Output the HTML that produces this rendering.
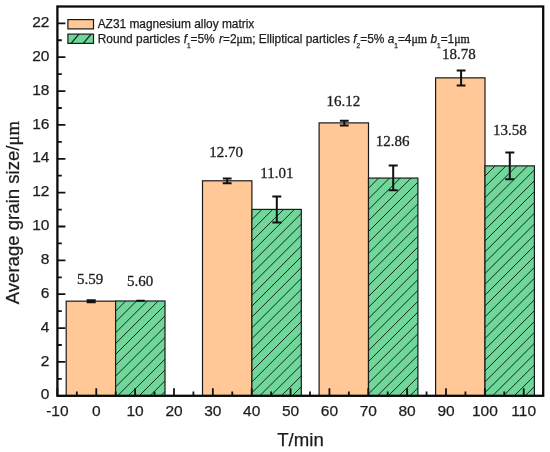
<!DOCTYPE html>
<html lang="en"><head><meta charset="utf-8"><title>Average grain size</title>
<style>html,body{margin:0;padding:0;background:#fff}svg{display:block}.s{font-family:"Liberation Sans",Arial,sans-serif;fill:#1c1c1c;stroke:#1c1c1c;stroke-width:.25px}.t{font-family:"Liberation Serif","Times New Roman",serif;fill:#1c1c1c;stroke:#1c1c1c;stroke-width:.3px}</style></head><body>
<svg width="550" height="452" viewBox="0 0 550 452">
<rect width="550" height="452" fill="#fff"/>
<defs>
<clipPath id="c0"><rect x="115.60" y="300.99" width="49.40" height="94.81"/></clipPath>
<clipPath id="c1"><rect x="251.90" y="209.40" width="49.40" height="186.40"/></clipPath>
<clipPath id="c2"><rect x="368.50" y="178.08" width="49.40" height="217.72"/></clipPath>
<clipPath id="c3"><rect x="485.00" y="165.89" width="49.40" height="229.91"/></clipPath>
<clipPath id="cl"><rect x="67.9" y="34.1" width="25.6" height="9.3"/></clipPath>
</defs>
<rect x="66.20" y="301.16" width="49.40" height="94.64" fill="#FFC896" stroke="#1a1a1a" stroke-width="1.2"/>
<rect x="115.60" y="300.99" width="49.40" height="94.81" fill="#70D69A"/>
<path d="M28.89 397.80L127.70 298.99M39.72 397.80L138.53 298.99M50.55 397.80L149.36 298.99M61.38 397.80L160.19 298.99M72.21 397.80L171.02 298.99M83.04 397.80L181.85 298.99M93.87 397.80L192.68 298.99M104.70 397.80L203.51 298.99M115.53 397.80L214.34 298.99M126.36 397.80L225.17 298.99M137.19 397.80L236.00 298.99M148.02 397.80L246.83 298.99M158.85 397.80L257.66 298.99" stroke="#10281a" stroke-width="1" fill="none" clip-path="url(#c0)"/>
<rect x="115.60" y="300.99" width="49.40" height="94.81" fill="none" stroke="#1a1a1a" stroke-width="1.2"/>
<rect x="202.50" y="180.79" width="49.40" height="215.01" fill="#FFC896" stroke="#1a1a1a" stroke-width="1.2"/>
<rect x="251.90" y="209.40" width="49.40" height="186.40" fill="#70D69A"/>
<path d="M73.60 397.80L264.00 207.40M84.43 397.80L274.83 207.40M95.26 397.80L285.66 207.40M106.09 397.80L296.49 207.40M116.92 397.80L307.32 207.40M127.75 397.80L318.15 207.40M138.58 397.80L328.98 207.40M149.41 397.80L339.81 207.40M160.24 397.80L350.64 207.40M171.07 397.80L361.47 207.40M181.90 397.80L372.30 207.40M192.73 397.80L383.13 207.40M203.56 397.80L393.96 207.40M214.39 397.80L404.79 207.40M225.22 397.80L415.62 207.40M236.05 397.80L426.45 207.40M246.88 397.80L437.28 207.40M257.71 397.80L448.11 207.40M268.54 397.80L458.94 207.40M279.37 397.80L469.77 207.40M290.20 397.80L480.60 207.40" stroke="#10281a" stroke-width="1" fill="none" clip-path="url(#c1)"/>
<rect x="251.90" y="209.40" width="49.40" height="186.40" fill="none" stroke="#1a1a1a" stroke-width="1.2"/>
<rect x="319.10" y="122.89" width="49.40" height="272.91" fill="#FFC896" stroke="#1a1a1a" stroke-width="1.2"/>
<rect x="368.50" y="178.08" width="49.40" height="217.72" fill="#70D69A"/>
<path d="M158.88 397.80L380.60 176.08M169.71 397.80L391.43 176.08M180.54 397.80L402.26 176.08M191.37 397.80L413.09 176.08M202.20 397.80L423.92 176.08M213.03 397.80L434.75 176.08M223.86 397.80L445.58 176.08M234.69 397.80L456.41 176.08M245.52 397.80L467.24 176.08M256.35 397.80L478.07 176.08M267.18 397.80L488.90 176.08M278.01 397.80L499.73 176.08M288.84 397.80L510.56 176.08M299.67 397.80L521.39 176.08M310.50 397.80L532.22 176.08M321.33 397.80L543.05 176.08M332.16 397.80L553.88 176.08M342.99 397.80L564.71 176.08M353.82 397.80L575.54 176.08M364.65 397.80L586.37 176.08M375.48 397.80L597.20 176.08M386.31 397.80L608.03 176.08M397.14 397.80L618.86 176.08M407.97 397.80L629.69 176.08" stroke="#10281a" stroke-width="1" fill="none" clip-path="url(#c2)"/>
<rect x="368.50" y="178.08" width="49.40" height="217.72" fill="none" stroke="#1a1a1a" stroke-width="1.2"/>
<rect x="435.60" y="77.85" width="49.40" height="317.95" fill="#FFC896" stroke="#1a1a1a" stroke-width="1.2"/>
<rect x="485.00" y="165.89" width="49.40" height="229.91" fill="#70D69A"/>
<path d="M263.19 397.80L497.10 163.89M274.02 397.80L507.93 163.89M284.85 397.80L518.76 163.89M295.68 397.80L529.59 163.89M306.51 397.80L540.42 163.89M317.34 397.80L551.25 163.89M328.17 397.80L562.08 163.89M339.00 397.80L572.91 163.89M349.83 397.80L583.74 163.89M360.66 397.80L594.57 163.89M371.49 397.80L605.40 163.89M382.32 397.80L616.23 163.89M393.15 397.80L627.06 163.89M403.98 397.80L637.89 163.89M414.81 397.80L648.72 163.89M425.64 397.80L659.55 163.89M436.47 397.80L670.38 163.89M447.30 397.80L681.21 163.89M458.13 397.80L692.04 163.89M468.96 397.80L702.87 163.89M479.79 397.80L713.70 163.89M490.62 397.80L724.53 163.89M501.45 397.80L735.36 163.89M512.28 397.80L746.19 163.89M523.11 397.80L757.02 163.89" stroke="#10281a" stroke-width="1" fill="none" clip-path="url(#c3)"/>
<rect x="485.00" y="165.89" width="49.40" height="229.91" fill="none" stroke="#1a1a1a" stroke-width="1.2"/>
<path d="M91.2 300.3V302.3M86.7 300.3h9.0M86.7 302.3h9.0" stroke="#111" stroke-width="2" fill="none"/>
<path d="M227.2 178.4V183.2M222.8 178.4h8.8M222.8 183.2h8.8" stroke="#111" stroke-width="2" fill="none"/>
<path d="M344.3 120.7V125.4M339.9 120.7h8.8M339.9 125.4h8.8" stroke="#111" stroke-width="2" fill="none"/>
<path d="M461.1 70.6V85.4M456.7 70.6h8.8M456.7 85.4h8.8" stroke="#111" stroke-width="2" fill="none"/>
<path d="M140.5 300.7V300.7M136.3 300.7h8.4M136.3 300.7h8.4" stroke="#111" stroke-width="2" fill="none"/>
<path d="M276.8 196.5V222.6M272.3 196.5h9.0M272.3 222.6h9.0" stroke="#111" stroke-width="2" fill="none"/>
<path d="M393.2 165.4V190.2M388.7 165.4h9.0M388.7 190.2h9.0" stroke="#111" stroke-width="2" fill="none"/>
<path d="M509.8 152.5V179.2M505.3 152.5h9.0M505.3 179.2h9.0" stroke="#111" stroke-width="2" fill="none"/>
<path d="M57.40 395.80v-7.6M76.83 395.80v-4.2M96.26 395.80v-7.6M115.69 395.80v-4.2M135.12 395.80v-7.6M154.55 395.80v-4.2M173.98 395.80v-7.6M193.41 395.80v-4.2M212.84 395.80v-7.6M232.27 395.80v-4.2M251.70 395.80v-7.6M271.13 395.80v-4.2M290.56 395.80v-7.6M309.99 395.80v-4.2M329.42 395.80v-7.6M348.85 395.80v-4.2M368.28 395.80v-7.6M387.71 395.80v-4.2M407.14 395.80v-7.6M426.57 395.80v-4.2M446.00 395.80v-7.6M465.43 395.80v-4.2M484.86 395.80v-7.6M504.29 395.80v-4.2M523.72 395.80v-7.6M57.40 395.80h8.0M57.40 378.87h4.4M57.40 361.94h8.0M57.40 345.01h4.4M57.40 328.08h8.0M57.40 311.15h4.4M57.40 294.22h8.0M57.40 277.29h4.4M57.40 260.36h8.0M57.40 243.43h4.4M57.40 226.50h8.0M57.40 209.57h4.4M57.40 192.64h8.0M57.40 175.71h4.4M57.40 158.78h8.0M57.40 141.85h4.4M57.40 124.92h8.0M57.40 107.99h4.4M57.40 91.06h8.0M57.40 74.13h4.4M57.40 57.20h8.0M57.40 40.27h4.4M57.40 23.34h8.0" stroke="#111" stroke-width="1.8" fill="none"/>
<rect x="57.4" y="6.5" width="485.80" height="389.30" fill="none" stroke="#0a0a0a" stroke-width="2.3"/>
<text class="s" x="57.4" y="416" font-size="15.5" text-anchor="middle">-10</text>
<text class="s" x="96.3" y="416" font-size="15.5" text-anchor="middle">0</text>
<text class="s" x="135.1" y="416" font-size="15.5" text-anchor="middle">10</text>
<text class="s" x="174.0" y="416" font-size="15.5" text-anchor="middle">20</text>
<text class="s" x="212.8" y="416" font-size="15.5" text-anchor="middle">30</text>
<text class="s" x="251.7" y="416" font-size="15.5" text-anchor="middle">40</text>
<text class="s" x="290.6" y="416" font-size="15.5" text-anchor="middle">50</text>
<text class="s" x="329.4" y="416" font-size="15.5" text-anchor="middle">60</text>
<text class="s" x="368.3" y="416" font-size="15.5" text-anchor="middle">70</text>
<text class="s" x="407.1" y="416" font-size="15.5" text-anchor="middle">80</text>
<text class="s" x="446.0" y="416" font-size="15.5" text-anchor="middle">90</text>
<text class="s" x="484.9" y="416" font-size="15.5" text-anchor="middle">100</text>
<text class="s" x="523.7" y="416" font-size="15.5" text-anchor="middle">110</text>
<text class="s" x="49.4" y="399.4" font-size="15.5" text-anchor="end">0</text>
<text class="s" x="49.4" y="365.5" font-size="15.5" text-anchor="end">2</text>
<text class="s" x="49.4" y="331.7" font-size="15.5" text-anchor="end">4</text>
<text class="s" x="49.4" y="297.8" font-size="15.5" text-anchor="end">6</text>
<text class="s" x="49.4" y="264.0" font-size="15.5" text-anchor="end">8</text>
<text class="s" x="49.4" y="230.1" font-size="15.5" text-anchor="end">10</text>
<text class="s" x="49.4" y="196.2" font-size="15.5" text-anchor="end">12</text>
<text class="s" x="49.4" y="162.4" font-size="15.5" text-anchor="end">14</text>
<text class="s" x="49.4" y="128.5" font-size="15.5" text-anchor="end">16</text>
<text class="s" x="49.4" y="94.7" font-size="15.5" text-anchor="end">18</text>
<text class="s" x="49.4" y="60.8" font-size="15.5" text-anchor="end">20</text>
<text class="s" x="49.4" y="26.9" font-size="15.5" text-anchor="end">22</text>
<text class="s" x="300.5" y="446.3" font-size="18.6" text-anchor="middle">T/min</text>
<text class="s" transform="translate(19,212.7) rotate(-90)" font-size="18.6" text-anchor="middle">Average grain size/<tspan class="t">μm</tspan></text>
<text class="t" x="90.0" y="284.2" font-size="15" text-anchor="middle">5.59</text>
<text class="t" x="226.0" y="157.3" font-size="15" text-anchor="middle">12.70</text>
<text class="t" x="343.4" y="105.5" font-size="15" text-anchor="middle">16.12</text>
<text class="t" x="458.8" y="59.2" font-size="15" text-anchor="middle">18.78</text>
<text class="t" x="140.0" y="286.0" font-size="15" text-anchor="middle">5.60</text>
<text class="t" x="276.8" y="177.6" font-size="15" text-anchor="middle">11.01</text>
<text class="t" x="392.7" y="145.8" font-size="15" text-anchor="middle">12.86</text>
<text class="t" x="509.8" y="135.0" font-size="15" text-anchor="middle">13.58</text>
<rect x="67.9" y="19.6" width="25.6" height="9.3" fill="#FFC896" stroke="#1a1a1a" stroke-width="1.2"/>
<rect x="67.9" y="34.1" width="25.6" height="9.3" fill="#70D69A"/>
<path d="M69.8 45L79.8 33M82 45L92 33" stroke="#10281a" stroke-width="1.25" fill="none" clip-path="url(#cl)"/>
<rect x="67.9" y="34.1" width="25.6" height="9.3" fill="none" stroke="#1a1a1a" stroke-width="1.2"/>
<text class="s" x="97.7" y="28.3" font-size="11.9">AZ31 magnesium alloy matrix</text>
<text class="s" x="97.7" y="42.6" font-size="11.9">Round particles <tspan font-style="italic">f</tspan><tspan dy="5" font-size="6.5">1</tspan><tspan dy="-5">=5% </tspan><tspan font-style="italic" dx="1">r</tspan>=2<tspan class="t">μm</tspan>; Elliptical particles <tspan font-style="italic">f</tspan><tspan dy="5" font-size="6.5">2</tspan><tspan dy="-5">=5% </tspan><tspan font-style="italic">a</tspan><tspan dy="5" font-size="6.5">1</tspan><tspan dy="-5">=4</tspan><tspan class="t">μm</tspan> <tspan font-style="italic">b</tspan><tspan dy="5" font-size="6.5">1</tspan><tspan dy="-5">=1</tspan><tspan class="t">μm</tspan></text>
</svg></body></html>
